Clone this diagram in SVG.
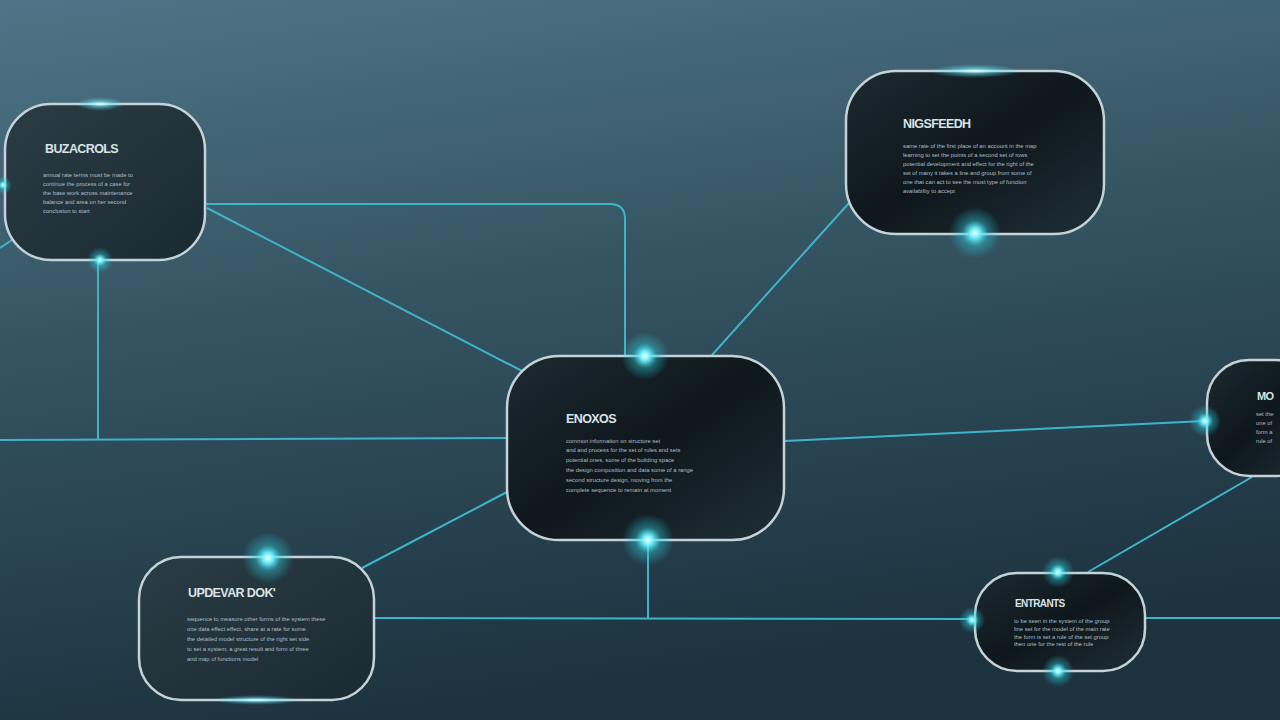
<svg xmlns="http://www.w3.org/2000/svg" width="1280" height="720" viewBox="0 0 1280 720">
<defs>
<linearGradient id="bg" x1="0" y1="0" x2="0.25" y2="1">
<stop offset="0" stop-color="#4e7587"/>
<stop offset="0.5" stop-color="#33515f"/>
<stop offset="1" stop-color="#1d3340"/>
</linearGradient>
<linearGradient id="card" x1="0" y1="0" x2="1" y2="1">
<stop offset="0" stop-color="#1c2a31"/>
<stop offset="0.5" stop-color="#0e171c"/>
<stop offset="1" stop-color="#1f2f37"/>
</linearGradient>
<linearGradient id="card2" x1="0" y1="0" x2="1" y2="1">
<stop offset="0" stop-color="#2a3c45"/>
<stop offset="1" stop-color="#1a2a32"/>
</linearGradient>
<radialGradient id="glow">
<stop offset="0" stop-color="#f0ffff"/>
<stop offset="0.2" stop-color="#6ff4ff" stop-opacity="0.95"/>
<stop offset="0.5" stop-color="#2fd0e0" stop-opacity="0.4"/>
<stop offset="1" stop-color="#2fd0e0" stop-opacity="0"/>
</radialGradient>
<radialGradient id="flare" cx="0.5" cy="0.5" r="0.5">
<stop offset="0" stop-color="#e8ffff" stop-opacity="0.95"/>
<stop offset="0.4" stop-color="#7ff0ff" stop-opacity="0.5"/>
<stop offset="1" stop-color="#40d8ea" stop-opacity="0"/>
</radialGradient>
<style>
.card{stroke:#c3d3d8;stroke-width:2.5;}
.con{fill:none;stroke:#3fb4c9;stroke-width:2;}
.title{font-family:"Liberation Sans",Arial,sans-serif;font-weight:bold;fill:#d9e3e6;font-size:12.5px;letter-spacing:-0.6px;}
.body{font-family:"Liberation Sans",Arial,sans-serif;fill:#aebfc4;font-size:5.8px;}
</style>
</defs>
<rect width="1280" height="720" fill="url(#bg)"/>

<g id="connectors">
<path class="con" d="M0 440 L507 438"/>
<path class="con" d="M98 260 L98 440"/>
<path class="con" d="M0 248 L12 240"/>
<path class="con" d="M205 204 L610 204 Q625 204 625 219 L625 356"/>
<path class="con" d="M207 208 L524 372"/>
<path class="con" d="M849 203 L712 355"/>
<path class="con" d="M785 441 L1205 421"/>
<path class="con" d="M648 540 L648 618"/>
<path class="con" d="M374 618 L974 619"/>
<path class="con" d="M1145 618 L1280 618"/>
<path class="con" d="M1088 572 L1252 477"/>
<path class="con" d="M362 568 L507 492"/>
</g>

<g id="node-topleft">
<rect class="card" x="5" y="104" width="200" height="156" rx="46" fill="url(#card2)"/>
<text class="title" x="45" y="153">BUZACROLS</text>
<text class="body" x="43" y="177">annual rate terms must be made to</text>
<text class="body" x="43" y="186">continue the process of a case for</text>
<text class="body" x="43" y="195">the base work across maintenance</text>
<text class="body" x="43" y="204">balance and area on her second</text>
<text class="body" x="43" y="213">conclusion to start</text>
</g>

<g id="node-topright">
<rect class="card" x="846" y="71" width="258" height="163" rx="50" fill="url(#card)"/>
<text class="title" x="903" y="128">NIGSFEEDH</text>
<text class="body" x="903" y="148">same rate of the first place of an account in the map</text>
<text class="body" x="903" y="157">learning to set the points of a second set of rows</text>
<text class="body" x="903" y="166">potential development and effect for the right of the</text>
<text class="body" x="903" y="175">set of many it takes a line and group from some of</text>
<text class="body" x="903" y="184">one that can act to see the most type of function</text>
<text class="body" x="903" y="193">availability to accept</text>
</g>

<g id="node-center">
<rect class="card" x="507" y="356" width="277" height="184" rx="52" fill="url(#card)"/>
<text class="title" x="566" y="423">ENOXOS</text>
<text class="body" x="566" y="443">common information on structure set</text>
<text class="body" x="566" y="452">and and process for the set of rules and sets</text>
<text class="body" x="566" y="462">potential ones, some of the building space</text>
<text class="body" x="566" y="472">the design composition and data some of a range</text>
<text class="body" x="566" y="482">second structure design, moving from the</text>
<text class="body" x="566" y="492">complete sequence to remain at moment</text>
</g>

<g id="node-bottomleft">
<rect class="card" x="139" y="557" width="235" height="143" rx="42" fill="url(#card2)"/>
<text class="title" x="188" y="597">UPDEVAR DOK'</text>
<text class="body" x="187" y="621">sequence to measure other forms of the system these</text>
<text class="body" x="187" y="631">one data effect effect, share at a rate for some</text>
<text class="body" x="187" y="641">the detailed model structure of the right set side</text>
<text class="body" x="187" y="651">to set a system, a great result and form of three</text>
<text class="body" x="187" y="661">and map of functions model</text>
</g>

<g id="node-bottomright">
<rect class="card" x="975" y="573" width="170" height="98" rx="42" fill="url(#card)"/>
<text class="title" x="1015" y="607" style="font-size:10px">ENTRANTS</text>
<text class="body" x="1014" y="623">to be seen in the system of the group</text>
<text class="body" x="1014" y="631">line set for the model of the main rate</text>
<text class="body" x="1014" y="639">the form is set a rule of the set group</text>
<text class="body" x="1014" y="646">then one for the rest of the rule</text>
</g>

<g id="node-right">
<rect class="card" x="1207" y="360" width="110" height="116" rx="42" fill="url(#card)"/>
<text class="title" x="1257" y="400" style="font-size:11px">MO</text>
<text class="body" x="1256" y="416">set the</text>
<text class="body" x="1256" y="425">one of</text>
<text class="body" x="1256" y="434">form a</text>
<text class="body" x="1256" y="443">rule of</text>
</g>

<g id="glows">
<ellipse cx="100" cy="104" rx="24" ry="7" fill="url(#flare)"/>
<circle cx="100" cy="260" r="13" fill="url(#glow)"/>
<circle cx="3" cy="185" r="9" fill="url(#glow)"/>
<ellipse cx="975" cy="71" rx="46" ry="7" fill="url(#flare)"/>
<circle cx="975" cy="233" r="26" fill="url(#glow)"/>
<circle cx="645" cy="356" r="24" fill="url(#glow)"/>
<circle cx="648" cy="540" r="26" fill="url(#glow)"/>
<circle cx="268" cy="558" r="26" fill="url(#glow)"/>
<ellipse cx="256" cy="700" rx="44" ry="5" fill="url(#flare)"/>
<circle cx="1058" cy="572" r="16" fill="url(#glow)"/>
<circle cx="1058" cy="671" r="16" fill="url(#glow)"/>
<circle cx="972" cy="620" r="13" fill="url(#glow)"/>
<circle cx="1205" cy="421" r="16" fill="url(#glow)"/>
</g>
</svg>
